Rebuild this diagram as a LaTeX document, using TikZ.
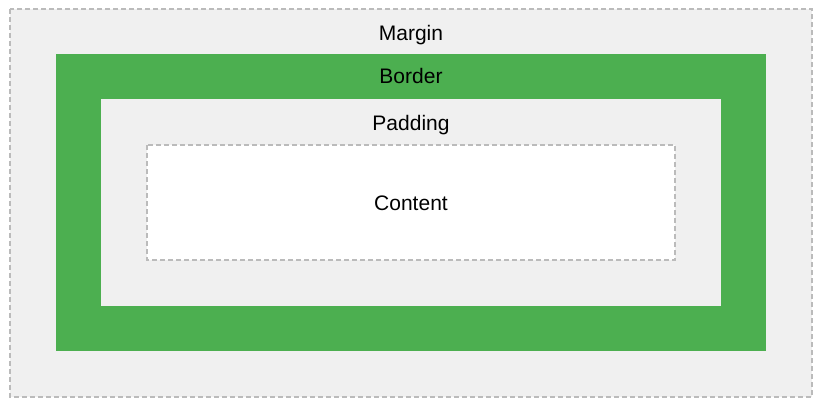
\documentclass[tikz,border=0pt]{standalone}
\usepackage{fontspec}
\setmainfont{Liberation Sans}
\definecolor{boxgray}{HTML}{F0F0F0}
\definecolor{dashgray}{HTML}{BBBBBB}
\definecolor{bordergreen}{HTML}{4CAF50}
\tikzset{
  dashbox/.style={draw=dashgray, line width=1.6pt, dash pattern=on 5pt off 3pt},
  lbl/.style={anchor=base, font=\fontsize{21}{24}\selectfont, text=black, inner sep=0pt}
}
\begin{document}
\begin{tikzpicture}[x=1pt,y=-1pt]
\useasboundingbox (0,0) rectangle (822,408);
\fill[white] (0,0) rectangle (822,408);
\path[fill=boxgray, dashbox] (10,9) rectangle (812,397);
\fill[bordergreen] (56,54) rectangle (766,351);
\fill[boxgray] (101,99) rectangle (721,306);
\path[fill=white, dashbox] (147,145) rectangle (675,260);
\node[lbl] (margin) at (411,40) {Margin};
\node[lbl] (border) at (411,83.5) {Border};
\node[lbl] (padding) at (411,130) {Padding};
\node[lbl] (content) at (411,210.5) {Content};
\end{tikzpicture}
\end{document}
